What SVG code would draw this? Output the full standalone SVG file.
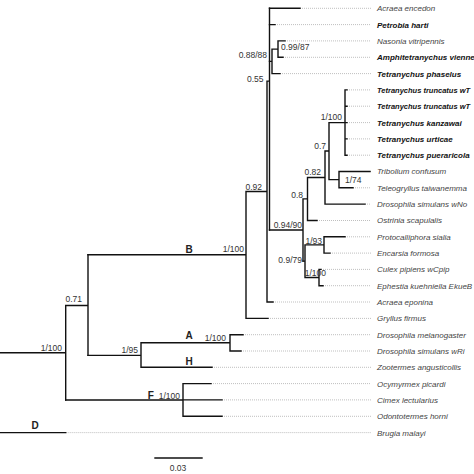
<svg xmlns="http://www.w3.org/2000/svg" width="474" height="474" viewBox="0 0 474 474">
<style>
.br{fill:none;stroke:#111;stroke-width:1.4;stroke-linecap:square}
.dt{fill:none;stroke:#b8b8b8;stroke-width:0.9;stroke-dasharray:1 1}
.lf{font-family:"Liberation Sans",Arial,sans-serif;font-size:8px;font-style:italic;fill:#444}
.lb{font-family:"Liberation Sans",Arial,sans-serif;font-size:8px;font-style:italic;font-weight:bold;fill:#111}
.nl{font-family:"Liberation Sans",Arial,sans-serif;font-size:8.5px;fill:#333}
.cl{font-family:"Liberation Sans",Arial,sans-serif;font-size:10px;font-weight:bold;fill:#222;text-anchor:middle}
.e{text-anchor:end}
</style>
<rect width="474" height="474" fill="#fff"/>
<g id="connectors">
<path class="dt" d="M300,8.3H371 M275,24.6H371 M285,40.9H371 M283,57.3H371 M280,73.6H371 M347,89.9H371 M347,106.2H371 M347,122.6H371 M347,138.9H371 M347,155.2H371 M370,171.5H371 M353,187.8H371 M365,204.1H371 M317,220.5H371 M345,236.8H371 M330,253.1H371 M321,269.4H371 M323,285.7H371 M273,302H371 M268,318.4H371 M243,334.7H371 M241,351H371 M212,367.3H371 M211,383.6H371 M222,399.9H371 M222,416.3H371 M65.7,432.6H371"/>
<path class="br" d="M0,352.8H65.7 M65.7,305.5V400 M65.7,305.5H88 M88,254.8V355.4 M0,432.6H65.7"/>
<path class="br" d="M88,254.8H246 M246,191.5V318.4 M246,318.4H268 M246,191.5H267 M267,81.1V302 M267,302H273 M267,81.1H269.5 M269.5,8.3V230"/>
<path class="br" d="M269.5,8.3H300 M269.5,24.6H275 M269.5,61.4H272 M272,49.1V73.6 M272,73.6H280 M272,49.1H278 M278,40.9V57.3 M278,40.9H285 M278,57.3H283"/>
<path class="br" d="M269.5,230H303 M303,198.9V261.1 M303,198.9H307.5 M307.5,177.5V220.5 M307.5,220.5H317 M307.5,177.5H325 M325,151V204.1 M325,204.1H365 M325,151H329 M329,122.6V179.6 M329,122.6H345 M345,89.9V155.2 M345,89.9H347 M345,106.2H347 M345,122.6H347 M345,138.9H347 M345,155.2H347 M329,179.6H339 M339,171.5V187.8 M339,171.5H370 M339,187.8H353"/>
<path class="br" d="M303,261.1H305 M305,244.9V277.5 M305,244.9H324 M324,236.8V253.1 M324,236.8H345 M324,253.1H330 M305,277.5H319 M319,269.4V285.7 M319,269.4H321 M319,285.7H323"/>
<path class="br" d="M88,355.4H141 M141,342.8V367.3 M141,342.8H230 M230,334.7V351 M230,334.7H243 M230,351H241 M141,367.3H212"/>
<path class="br" d="M65.7,400H183 M183,383.6V416.3 M183,383.6H211 M183,399.9H222 M183,416.3H222"/>
<path class="br" d="M155,458H202"/>
</g>
<g id="leaves">
<g id="leaf1"><text class="lf" x="377" y="11.2">Acraea encedon</text></g>
<g id="leaf2"><text class="lb" x="377" y="27.5">Petrobia harti</text></g>
<g id="leaf3"><text class="lf" x="377" y="43.8">Nasonia vitripennis</text></g>
<g id="leaf4"><text class="lb" x="377" y="60.2">Amphitetranychus vienne</text></g>
<g id="leaf5"><text class="lb" x="377" y="76.5">Tetranychus phaselus</text></g>
<g id="leaf6"><text class="lb" x="377" y="92.8" style="font-size:7.5px">Tetranychus truncatus wT</text></g>
<g id="leaf7"><text class="lb" x="377" y="109.1" style="font-size:7.5px">Tetranychus truncatus wT</text></g>
<g id="leaf8"><text class="lb" x="377" y="125.5">Tetranychus kanzawai</text></g>
<g id="leaf9"><text class="lb" x="377" y="141.8">Tetranychus urticae</text></g>
<g id="leaf10"><text class="lb" x="377" y="158.1">Tetranychus pueraricola</text></g>
<g id="leaf11"><text class="lf" x="377" y="174.4">Tribolium confusum</text></g>
<g id="leaf12"><text class="lf" x="377" y="190.7">Teleogryllus taiwanemma</text></g>
<g id="leaf13"><text class="lf" x="377" y="207">Drosophila simulans wNo</text></g>
<g id="leaf14"><text class="lf" x="377" y="223.4">Ostrinia scapulalis</text></g>
<g id="leaf15"><text class="lf" x="377" y="239.7">Protocalliphora sialia</text></g>
<g id="leaf16"><text class="lf" x="377" y="256">Encarsia formosa</text></g>
<g id="leaf17"><text class="lf" x="377" y="272.3">Culex pipiens wCpip</text></g>
<g id="leaf18"><text class="lf" x="377" y="288.6">Ephestia kuehniella EkueB</text></g>
<g id="leaf19"><text class="lf" x="377" y="304.9">Acraea eponina</text></g>
<g id="leaf20"><text class="lf" x="377" y="321.3">Gryllus firmus</text></g>
<g id="leaf21"><text class="lf" x="377" y="337.6">Drosophila melanogaster</text></g>
<g id="leaf22"><text class="lf" x="377" y="353.9">Drosophila simulans wRi</text></g>
<g id="leaf23"><text class="lf" x="377" y="370.2">Zootermes angusticollis</text></g>
<g id="leaf24"><text class="lf" x="377" y="386.5">Ocymyrmex picardi</text></g>
<g id="leaf25"><text class="lf" x="377" y="402.8">Cimex lectularius</text></g>
<g id="leaf26"><text class="lf" x="377" y="419.2">Odontotermes horni</text></g>
<g id="leaf27"><text class="lf" x="377" y="435.5">Brugia malayi</text></g>
</g>
<g id="support">
<g id="n-0.99-87"><text class="nl" x="281" y="50">0.99/87</text></g>
<g id="n-0.88-88"><text class="nl e" x="267" y="58">0.88/88</text></g>
<g id="n-0.55"><text class="nl e" x="263.5" y="82">0.55</text></g>
<g id="n-0.92"><text class="nl e" x="262" y="190">0.92</text></g>
<g id="n-tet"><text class="nl e" x="342" y="120">1/100</text></g>
<g id="n-0.7"><text class="nl e" x="326" y="149">0.7</text></g>
<g id="n-0.82"><text class="nl e" x="321" y="175">0.82</text></g>
<g id="n-1-74"><text class="nl" x="345" y="183">1/74</text></g>
<g id="n-0.8"><text class="nl e" x="303" y="198">0.8</text></g>
<g id="n-0.94-90"><text class="nl e" x="302" y="228">0.94/90</text></g>
<g id="n-1-93"><text class="nl e" x="322" y="243.5">1/93</text></g>
<g id="n-0.9-79"><text class="nl e" x="302" y="262.5">0.9/79</text></g>
<g id="n-culex"><text class="nl e" x="326" y="275.5">1/100</text></g>
<g id="n-B"><text class="nl e" x="244" y="252">1/100</text><text class="cl" x="189" y="252.5">B</text></g>
<g id="n-0.71"><text class="nl e" x="82" y="302">0.71</text></g>
<g id="n-root"><text class="nl e" x="62" y="351">1/100</text></g>
<g id="n-1-95"><text class="nl e" x="138" y="353">1/95</text></g>
<g id="n-A"><text class="nl e" x="226" y="341">1/100</text><text class="cl" x="189" y="339">A</text></g>
<g id="n-H"><text class="cl" x="189" y="364.5">H</text></g>
<g id="n-F"><text class="nl e" x="180" y="399">1/100</text><text class="cl" x="150.7" y="398.5">F</text></g>
<g id="n-D"><text class="cl" x="35" y="428.5">D</text></g>
</g>
<g id="scale"><text class="nl" x="178" y="471" text-anchor="middle">0.03</text></g>
</svg>
